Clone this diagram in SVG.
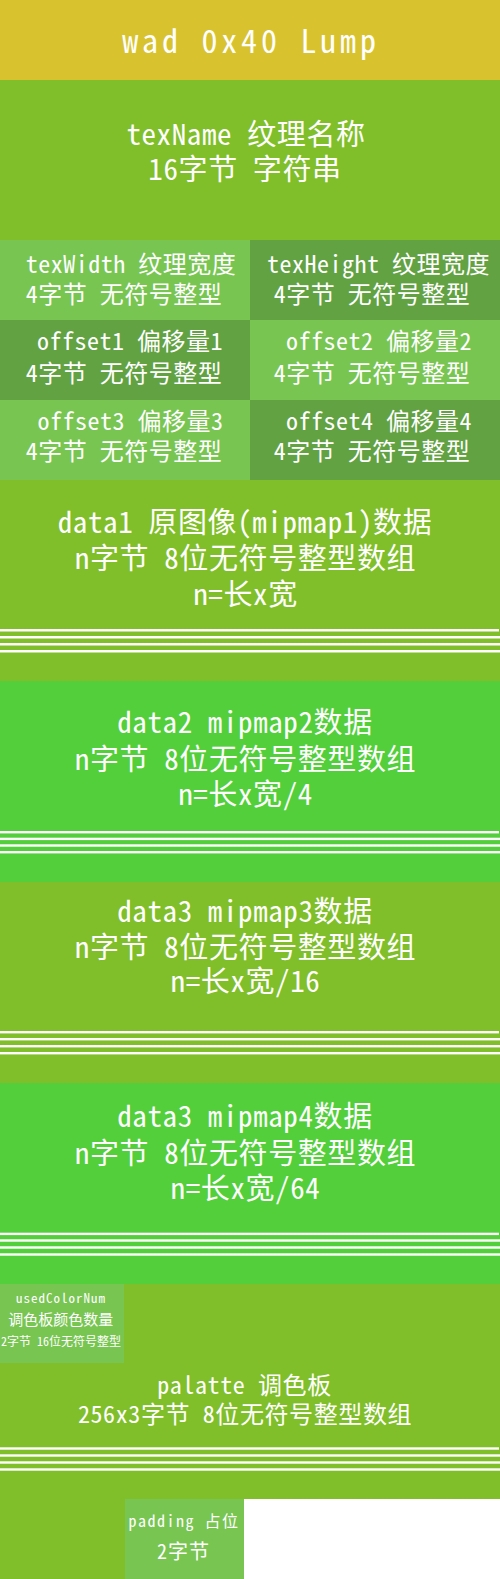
<svg xmlns="http://www.w3.org/2000/svg" width="500" height="1579" viewBox="0 0 500 1579">
<style>
text{font-family:"Noto Sans Mono CJK SC","DejaVu Sans Mono","Noto Sans CJK SC",monospace;fill:#ffffff;text-anchor:middle}
.t{font-size:32px;letter-spacing:3.8px}
.b{font-size:29px;letter-spacing:0.6px}
.g{font-size:24px;letter-spacing:0.5px}
.p{font-size:24px;letter-spacing:0.6px}
.yel{fill:#D8C32F}
.g1{fill:#80BF2A}
.g2{fill:#52CF3A}
.lt{fill:#78C552}
.dk{fill:#62A243}
.s{fill:#ffffff}
</style>
<rect x="0" y="0" width="500" height="1579" fill="#ffffff"/>
<g id="title">
<rect class="yel" x="0" y="0" width="500" height="80"/>
<text class="t" x="251" y="52.7">wad 0x40 Lump</text>
</g>
<g id="texName">
<rect class="g1" x="0" y="80" width="500" height="160"/>
<text class="b" x="246" y="145">texName 纹理名称</text>
<text class="b" x="245" y="180">16字节 字符串</text>
</g>
<g id="texWidth">
<rect class="lt" x="0" y="240" width="250" height="80"/>
<text class="g" x="131" y="273">texWidth 纹理宽度</text>
<text class="g" x="124" y="303">4字节 无符号整型</text>
</g>
<g id="texHeight">
<rect class="dk" x="250" y="240" width="250" height="80"/>
<text class="g" x="378.5" y="273">texHeight 纹理宽度</text>
<text class="g" x="372" y="303">4字节 无符号整型</text>
</g>
<g id="offset1">
<rect class="dk" x="0" y="320" width="250" height="80"/>
<text class="g" x="130" y="350">offset1 偏移量1</text>
<text class="g" x="124" y="382">4字节 无符号整型</text>
</g>
<g id="offset2">
<rect class="lt" x="250" y="320" width="250" height="80"/>
<text class="g" x="379" y="350">offset2 偏移量2</text>
<text class="g" x="372" y="382">4字节 无符号整型</text>
</g>
<g id="offset3">
<rect class="lt" x="0" y="400" width="250" height="80"/>
<text class="g" x="130.5" y="430">offset3 偏移量3</text>
<text class="g" x="124" y="460">4字节 无符号整型</text>
</g>
<g id="offset4">
<rect class="dk" x="250" y="400" width="250" height="80"/>
<text class="g" x="379" y="430">offset4 偏移量4</text>
<text class="g" x="372" y="460">4字节 无符号整型</text>
</g>
<g id="data1">
<rect class="g1" x="0" y="480" width="500" height="201"/>
<text class="b" x="245" y="532.7">data1 原图像(mipmap1)数据</text>
<text class="b" x="245.5" y="569">n字节 8位无符号整型数组</text>
<text class="b" x="245.5" y="605">n=长x宽</text>
<rect class="s" x="0" y="629" width="499" height="2.5"/>
<rect class="s" x="0" y="636" width="500" height="2.5"/>
<rect class="s" x="0" y="643" width="500" height="2.5"/>
<rect class="s" x="0" y="650" width="500" height="2.5"/>
</g>
<g id="data2">
<rect class="g2" x="0" y="681" width="500" height="201"/>
<text class="b" x="245" y="733.3">data2 mipmap2数据</text>
<text class="b" x="245.5" y="770">n字节 8位无符号整型数组</text>
<text class="b" x="245.5" y="805">n=长x宽/4</text>
<rect class="s" x="0" y="831" width="499" height="2.4"/>
<rect class="s" x="0" y="837.7" width="500" height="2.4"/>
<rect class="s" x="0" y="844.3" width="500" height="2.4"/>
<rect class="s" x="0" y="851" width="500" height="2.4"/>
</g>
<g id="data3">
<rect class="g1" x="0" y="882" width="500" height="201"/>
<text class="b" x="245" y="921.7">data3 mipmap3数据</text>
<text class="b" x="245.5" y="958.3">n字节 8位无符号整型数组</text>
<text class="b" x="245.5" y="992.3">n=长x宽/16</text>
<rect class="s" x="0" y="1031" width="499" height="2.4"/>
<rect class="s" x="0" y="1038" width="500" height="2.4"/>
<rect class="s" x="0" y="1045" width="500" height="2.4"/>
<rect class="s" x="0" y="1052" width="500" height="2.4"/>
</g>
<g id="data4">
<rect class="g2" x="0" y="1083" width="500" height="201"/>
<text class="b" x="245" y="1126.7">data3 mipmap4数据</text>
<text class="b" x="245.5" y="1164">n字节 8位无符号整型数组</text>
<text class="b" x="245.5" y="1199">n=长x宽/64</text>
<rect class="s" x="0" y="1232.7" width="499" height="2.4"/>
<rect class="s" x="0" y="1239.3" width="500" height="2.4"/>
<rect class="s" x="0" y="1246.3" width="500" height="2.4"/>
<rect class="s" x="0" y="1253.3" width="500" height="2.4"/>
</g>
<g id="palette">
<rect class="g1" x="0" y="1284" width="500" height="215"/>
<rect class="g1" x="0" y="1499" width="125" height="80"/>
<text class="p" x="244.5" y="1394.3">palatte 调色板</text>
<text class="p" x="245" y="1423.3">256x3字节 8位无符号整型数组</text>
<rect class="s" x="0" y="1447.3" width="499" height="2.4"/>
<rect class="s" x="0" y="1454.3" width="500" height="2.4"/>
<rect class="s" x="0" y="1461.3" width="500" height="2.4"/>
<rect class="s" x="0" y="1468.3" width="500" height="2.4"/>
</g>
<g id="usedColorNum">
<rect class="lt" x="0" y="1284" width="124" height="79"/>
<text x="61" y="1303" style="font-size:13px;letter-spacing:1px">usedColorNum</text>
<text x="60.7" y="1325" style="font-size:15px">调色板颜色数量</text>
<text x="61" y="1346" style="font-size:12px">2字节 16位无符号整型</text>
</g>
<g id="padding">
<rect class="lt" x="125" y="1499" width="119" height="80"/>
<text x="184" y="1526.7" style="font-size:16px;letter-spacing:1.5px">padding 占位</text>
<text x="183.5" y="1559" style="font-size:20px;letter-spacing:1px">2字节</text>
</g>
</svg>
